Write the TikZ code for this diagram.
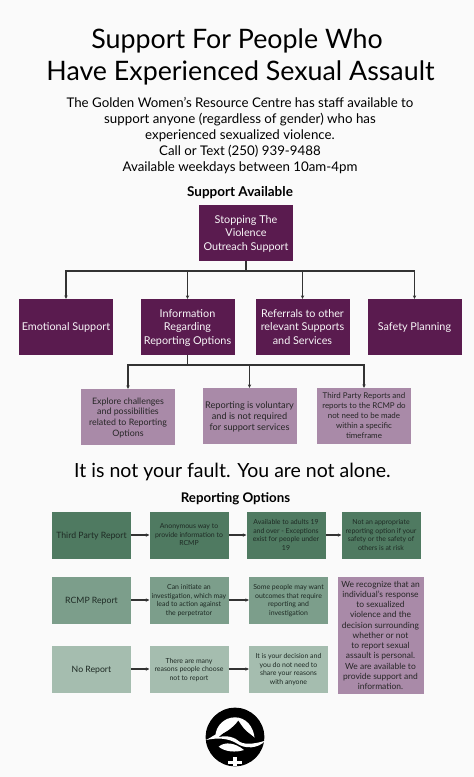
\documentclass[tikz,border=0pt]{standalone}
\usepackage{fontspec}
\setmainfont{Lato}
\usetikzlibrary{arrows.meta}
\definecolor{bgc}{HTML}{FAFAFA}
\definecolor{plumdark}{HTML}{5A1B4F}
\definecolor{plumlight}{HTML}{A98AA8}
\definecolor{greendark}{HTML}{4F7A61}
\definecolor{greenmid}{HTML}{7C9E8B}
\definecolor{greenlight}{HTML}{A5BDAF}
\definecolor{inkc}{HTML}{1E2A24}
\tikzset{
  x=1pt,y=-1pt,
  boxbase/.style={inner sep=0pt,align=center,text depth=0pt},
  mainbox/.style={boxbase,fill=plumdark,text=white!92!plumlight,minimum width=94pt,minimum height=56pt,font=\fontsize{10.8}{13.6}\selectfont},
  subbox/.style={boxbase,fill=plumlight,text=black!85,minimum width=94pt,minimum height=56pt},
  gbox/.style={boxbase,text=inkc,minimum width=79pt,minimum height=47pt,font=\fontsize{6.9}{8.5}\selectfont},
  gbig/.style={font=\fontsize{8.7}{11}\selectfont},
  gd/.style={gbox,fill=greendark},
  gm/.style={gbox,fill=greenmid},
  gl/.style={gbox,fill=greenlight},
  headtext/.style={inner sep=0pt,align=center},
  link/.style={draw=black!80,line width=1.1pt,-{Stealth[length=3.5pt,width=3.4pt]}},
  plainlink/.style={draw=black!80,line width=1.1pt}
}
\begin{document}
\begin{tikzpicture}
\useasboundingbox (0,0) rectangle (474,777);
\fill[bgc] (0,0) rectangle (474,777);
% headings
\node[headtext,font=\fontsize{26.8}{32}\selectfont] (title1) at (237,41) {Support For People Who};
\node[headtext,font=\fontsize{26.8}{32}\selectfont] (title2) at (240.5,73) {Have Experienced Sexual Assault};
\node[headtext,font=\fontsize{13.3}{16}\selectfont] (intro) at (240,135.5) {The Golden Women's Resource Centre has staff available to\\support anyone (regardless of gender) who has\\experienced sexualized violence.\\Call or Text (250) 939-9488\\Available weekdays between 10am-4pm};
\node[headtext,font=\bfseries\fontsize{13.5}{16}\selectfont] (h1) at (240,192.5) {Support Available};
\node[headtext,font=\fontsize{19.5}{24}\selectfont] (slogan) at (232.5,472) {It is not your fault. You are not alone.};
\node[headtext,font=\bfseries\fontsize{13.3}{16}\selectfont] (h2) at (235.5,498.5) {Reporting Options};
% purple row
\node[mainbox] (top) at (246,233) {Stopping The\\Violence\\Outreach Support};
\node[mainbox] (emo) at (66,327) {Emotional Support};
\node[mainbox] (info) at (187.5,327) {Information\\Regarding\\Reporting Options};
\node[mainbox] (ref) at (302.5,327) {Referrals to other\\relevant Supports\\and Services};
\node[mainbox] (safe) at (414.5,327) {Safety Planning};
\coordinate (busa) at (246,271);
\draw[plainlink] (top.south) -- (busa);
\foreach \t in {emo,info,ref,safe}{\draw[link] (busa) -| (\t.north);}
% light purple row
\node[subbox,font=\fontsize{8.85}{10.7}\selectfont] (s1) at (128,417) {Explore challenges\\and possibilities\\related to Reporting\\Options};
\node[subbox,font=\fontsize{9.2}{11.3}\selectfont] (s2) at (249.5,416) {Reporting is voluntary\\and is not required\\for support services};
\node[subbox,font=\fontsize{7.95}{10}\selectfont] (s3) at (364,416) {Third Party Reports and\\reports to the RCMP do\\not need to be made\\within a specific\\timeframe};
\coordinate (busb) at (187.5,365);
\draw[plainlink] (info.south) -- (busb);
\foreach \t in {s1,s2,s3}{\draw[link] (busb) -| (\t.north);}
% reporting rows
\node[gd,gbig] (a1) at (91.5,535) {Third Party Report};
\node[gd] (a2) at (189,535) {Anonymous way to\\provide information to\\RCMP};
\node[gd] (a3) at (286,535) {Available to adults 19\\and over - Exceptions\\exist for people under\\19};
\node[gd] (a4) at (381,535) {Not an appropriate\\reporting option if your\\safety or the safety of\\others is at risk};
\node[gm,gbig] (b1) at (91.5,600) {RCMP Report};
\node[gm] (b2) at (189,600) {Can initiate an\\investigation, which may\\lead to action against\\the perpetrator};
\node[gm] (b3) at (288.5,600) {Some people may want\\outcomes that require\\reporting and\\investigation};
\node[gl,gbig] (c1) at (91.5,669) {No Report};
\node[gl] (c2) at (189,669) {There are many\\reasons people choose\\not to report};
\node[gl] (c3) at (288.5,669) {It is your decision and\\you do not need to\\share your reasons\\with anyone};
\draw[link] (a1) -- (a2);
\draw[link] (a2) -- (a3);
\draw[link] (a3) -- (a4);
\draw[link] (b1) -- (b2);
\draw[link] (b2) -- (b3);
\draw[link] (c1) -- (c2);
\draw[link] (c2) -- (c3);
\node[boxbase,fill=plumlight,text=black!85,minimum width=86pt,minimum height=117.5pt,font=\fontsize{8.45}{10.25}\selectfont] (note) at (380.5,635.25) {We recognize that an\\individual's response\\to sexualized\\violence and the\\decision surrounding\\whether or not\\to report sexual\\assault is personal.\\We are available to\\provide support and\\information.};
% logo
\begin{scope}[shift={(190,700)},x=0.3333pt,y=-0.3333pt]
\fill[black] (135,111) circle [radius=88];
\fill[white] (128,172) rectangle (142,199);
\fill[white] (113,182) rectangle (157,192);
\fill[white] (76,108) .. controls (78,76) and (104,52) .. (135,52) .. controls (166,52) and (192,78) .. (194,118) -- cycle;
\fill[black] (80,108) .. controls (105,100) and (128,85) .. (145,62) .. controls (155,78) and (165,92) .. (180,102) .. controls (190,110) and (195,114) .. (200,120) -- (195,135) -- (120,130) -- cycle;
\fill[white] (48,120) .. controls (65,112) and (85,96) .. (112,86) .. controls (102,98) and (92,106) .. (84,112) .. controls (110,104) and (135,112) .. (150,126) .. controls (170,136) and (200,130) .. (226,122) .. controls (205,146) and (165,148) .. (140,130) .. controls (115,115) and (85,112) .. (48,120) -- cycle;
\fill[white] (86,140) .. controls (105,124) and (135,128) .. (162,150) .. controls (138,158) and (105,156) .. (86,140) -- cycle;
\end{scope}
\end{tikzpicture}
\end{document}
